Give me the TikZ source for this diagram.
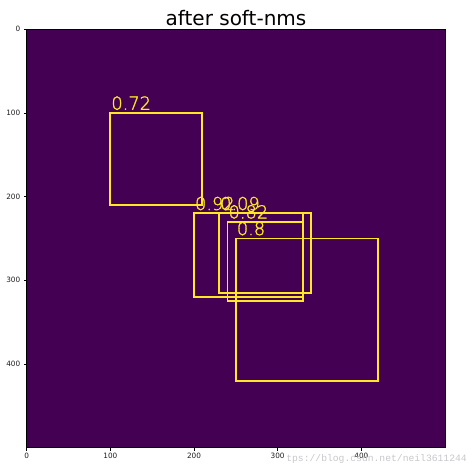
\documentclass[tikz,border=0pt]{standalone}
\usepackage{fontspec}
\setmainfont{DejaVu Sans}
\newfontfamily\hershey[FakeBold=1.6]{DejaVu Sans ExtraLight}
\newfontfamily\wmfont{Liberation Mono}
\definecolor{vbg}{RGB}{68,1,84}
\definecolor{vyel}{RGB}{253,231,37}
\definecolor{axcol}{RGB}{30,30,30}
\definecolor{wmcol}{RGB}{200,200,205}
\begin{document}
\begin{tikzpicture}[x=1pt,y=-1pt,
  bbox/.style={draw=vyel, line width=1.8pt},
  lbl/.style={text=vyel, inner sep=0pt, anchor=base west, font=\hershey\fontsize{17.8}{20}\selectfont},
  spine/.style={draw=black, line width=0.6pt},
  tickmark/.style={draw=black, line width=0.6pt},
  ticklbl/.style={text=axcol, inner sep=0pt, font=\fontsize{7.3}{9}\selectfont},
  titlestyle/.style={text=black, inner sep=0pt, anchor=base, font=\fontsize{20}{24}\selectfont},
  wm/.style={text=wmcol, inner sep=0pt, anchor=base east, font=\wmfont\fontsize{9.7}{12}\selectfont}]
\useasboundingbox (0,0) rectangle (474,470);
\fill[white] (0,0) rectangle (474,470);
\node[titlestyle] (title) at (236,26) {after soft-nms};
\begin{scope}[shift={(26.7,29.3)}, x=0.8366pt, y=-0.8366pt]
  \fill[vbg] (0,0) rectangle (500,500);
  % boxes
  \draw[bbox] (100,100) rectangle (210,210);
  \draw[bbox] (200,220) rectangle (330,320);
  \draw[bbox] (230,220) rectangle (340,315);
  \draw[bbox] (240,230) rectangle (330,325);
  \draw[bbox] (250,250) rectangle (420,420);
  % labels
  \node[lbl] (s072) at (101,96) {0.72};
  \node[lbl] (s092) at (201,216) {0.92};
  \node[lbl] (s009) at (231,216) {0.09};
  \node[lbl] (s082) at (241,226) {0.82};
  \node[lbl] (s080) at (251,246) {0.8};
  % frame
  \draw[spine] (0,0) rectangle (500,500);
  % ticks
  \foreach \v in {0,100,200,300,400} {
    \draw[tickmark] (\v,500) -- (\v,503.5);
    \node[ticklbl, anchor=north] (xt\v) at (\v,506.5) {\v};
    \draw[tickmark] (0,\v) -- (-3.5,\v);
    \node[ticklbl, anchor=east] (yt\v) at (-7.5,\v) {\v};
  }
\end{scope}
\node[wm] (wmark) at (467,461) {tps://blog.csdn.net/neil3611244};
\end{tikzpicture}
\end{document}
